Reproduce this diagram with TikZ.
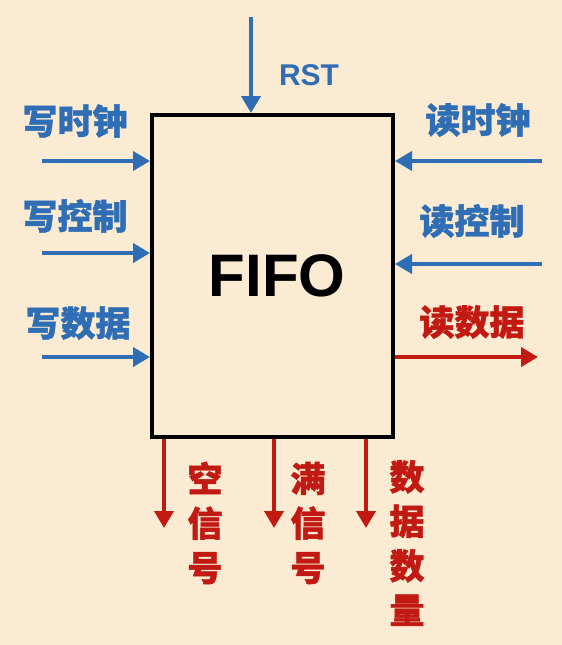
\documentclass[tikz,border=0pt]{standalone}
\usepackage{fontspec}
\setmainfont{Liberation Sans}
\newfontfamily\cjk{Noto Sans CJK SC}[BoldFeatures={FakeBold=1.2}]
\usetikzlibrary{arrows.meta}
\definecolor{bg}{HTML}{FAEBD2}
\definecolor{fblue}{HTML}{2F6EB5}
\definecolor{fred}{HTML}{C21A12}
\tikzset{
  barrow/.style={draw=fblue, line width=4pt, -{Triangle[length=17pt,width=19pt]}},
  rarrow/.style={draw=fred, line width=4pt, -{Triangle[length=17pt,width=19pt]}},
  blab/.style={text=fblue, font=\cjk\bfseries\fontsize{35}{44}\selectfont, inner sep=0pt},
  rlab/.style={text=fred, font=\cjk\bfseries\fontsize{35}{44.5}\selectfont, inner sep=0pt, align=center},
}
\begin{document}
\begin{tikzpicture}[x=1pt,y=-1pt]
\fill[bg] (0,0) rectangle (562,645);
\useasboundingbox (0,0) rectangle (562,645);
\node[draw, line width=4pt, minimum width=241pt, minimum height=322pt, inner sep=0pt] (fifo) at (272.5,276) {};
\node[font=\bfseries\fontsize{60}{60}\selectfont, inner sep=0pt] (title) at (277,276) {FIFO};
% top
\coordinate (rsts) at (251,17);
\draw[barrow] (rsts) -- (rsts |- fifo.north);
\node[text=fblue, font=\bfseries\fontsize{30}{30}\selectfont, inner sep=0pt] (rst) at (309,75) {RST};
% left inputs
\coordinate (w1) at (42,161);
\coordinate (w2) at (42,253);
\coordinate (w3) at (42,357);
\draw[barrow] (w1) -- (w1 -| fifo.west);
\draw[barrow] (w2) -- (w2 -| fifo.west);
\draw[barrow] (w3) -- (w3 -| fifo.west);
\node[blab] (lw1) at (75,121) {写时钟};
\node[blab] (lw2) at (75,216) {写控制};
\node[blab] (lw3) at (78,323) {写数据};
% right
\coordinate (r1) at (542,161);
\coordinate (r2) at (542,264);
\coordinate (r3) at (538,357);
\draw[barrow] (r1) -- (r1 -| fifo.east);
\draw[barrow] (r2) -- (r2 -| fifo.east);
\draw[rarrow] (r3 -| fifo.east) -- (r3);
\node[blab] (lr1) at (478,120) {读时钟};
\node[blab] (lr2) at (472,221) {读控制};
\node[blab, text=fred] (lr3) at (472,322) {读数据};
% bottom
\coordinate (b1) at (164,528);
\coordinate (b2) at (274,528);
\coordinate (b3) at (366,528);
\draw[rarrow] (b1 |- fifo.south) -- (b1);
\draw[rarrow] (b2 |- fifo.south) -- (b2);
\draw[rarrow] (b3 |- fifo.south) -- (b3);
\node[rlab] (lb1) at (205,523) {空\\信\\号};
\node[rlab] (lb2) at (308,523) {满\\信\\号};
\node[rlab] (lb3) at (407,543) {数\\据\\数\\量};
\end{tikzpicture}
\end{document}
